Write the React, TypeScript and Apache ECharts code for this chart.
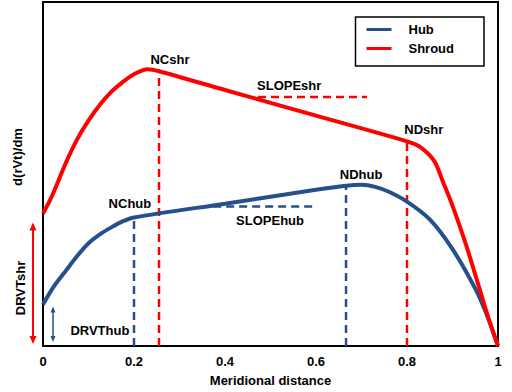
import React, { useEffect, useRef } from "react";
import * as echarts from "echarts";

// Meridional distance (x) and d(rVt)/dm (arbitrary units, y)
const hubX = [0, 0.025, 0.05, 0.075, 0.1, 0.125, 0.15, 0.175, 0.2, 0.4, 0.6, 0.666, 0.7, 0.73, 0.76, 0.8, 0.85, 0.9, 0.95, 0.975, 1];
const hubY = [42, 61, 76, 91, 104, 113, 120, 126, 130, 144, 158, 162, 163, 161, 156, 146, 128, 98, 58, 32, 0];

const shroudX = [0, 0.02, 0.05, 0.075, 0.1, 0.125, 0.15, 0.175, 0.2, 0.23, 0.255, 0.4, 0.6, 0.8, 0.83, 0.86, 0.88, 0.9, 0.93, 0.96, 0.98, 1];
const shroudY = [134, 152, 185, 209, 228, 244, 257, 267, 275, 280, 278, 259, 233, 207, 201, 187, 165, 142, 102, 57, 27, 0];

// Reference marks (dashed guides)
const ncShr = [[0.255, 0], [0.255, 278]];
const ndShr = [[0.8, 0], [0.8, 207]];
const ncHub = [[0.2, 0], [0.2, 130]];
const ndHub = [[0.666, 0], [0.666, 162]];
const slopeShr = [[0.4725, 252], [0.712, 252]];
const slopeHub = [[0.374, 141], [0.598, 141]];

// Annotation texts and their anchor points (data coordinates)
const labelTexts = ["NCshr", "SLOPEshr", "NDshr", "NDhub", "NChub", "SLOPEhub", "DRVThub"];
const labelAnchors = [[0.279, 290], [0.541, 264], [0.837, 219], [0.699, 174], [0.191, 144], [0.499, 127], [0.125, 16]];

// Range arrows (DRVTshr, DRVThub)
const drvtShr = [[-0.022, 125], [-0.022, 2]];
const drvtHub = [[0.022, 40], [0.022, 4]];

const xTicks = [0, 0.2, 0.4, 0.6, 0.8, 1];

const RED = "#FF0000";
const BLUE = "#25508C";
const FONT = "Liberation Sans";

const zip = (xs: number[], ys: number[]) => xs.map((x, i) => [x, ys[i]]);

export default function App() {
  const ref = useRef<HTMLDivElement>(null);
  useEffect(() => {
    document.body.style.margin = "0";
    const chart = echarts.init(ref.current!, null, { renderer: "svg" });
    const dashed = (data: number[][], color: string) => ({
      type: "line",
      data,
      symbol: "none",
      silent: true,
      lineStyle: { color, width: 2.5, type: [8, 5] },
      z: 1,
    });
    const lineIcon = "path://M0,0 L25,0 L25,3 L0,3 Z";
    const option: any = {
      animation: false,
      textStyle: { fontFamily: FONT },
      grid: { left: 43, right: 14, top: 2, bottom: 42, show: true, borderColor: "#000", borderWidth: 2 },
      legend: {
        data: [
          { name: "Hub", icon: lineIcon },
          { name: "Shroud", icon: lineIcon },
        ],
        orient: "vertical",
        right: 28,
        top: 17,
        padding: [6, 30, 11, 11],
        itemWidth: 25,
        itemHeight: 14,
        itemGap: 6,
        borderColor: "#000",
        borderWidth: 1.5,
        backgroundColor: "#fff",
        textStyle: { fontFamily: FONT, fontWeight: "bold", fontSize: 13, color: "#000", padding: [0, 0, 0, 12] },
      },
      xAxis: {
        type: "value",
        min: xTicks[0],
        max: xTicks[xTicks.length - 1],
        interval: 0.2,
        name: "Meridional distance",
        nameLocation: "middle",
        nameGap: 28,
        nameTextStyle: { fontFamily: FONT, fontWeight: "bold", fontSize: 13, color: "#000" },
        axisLine: { lineStyle: { color: "#000", width: 2 } },
        axisTick: { show: false },
        splitLine: { show: false },
        axisLabel: { fontFamily: FONT, fontWeight: "bold", fontSize: 13, color: "#000", margin: 9, formatter: (v: number) => String(v) },
      },
      yAxis: {
        type: "value",
        min: 0,
        max: 348,
        axisLine: { show: true, lineStyle: { color: "#000", width: 2 } },
        axisTick: { show: false },
        axisLabel: { show: false },
        splitLine: { show: false },
      },
      series: [
        dashed(ncShr, RED),
        dashed(ndShr, RED),
        dashed(slopeShr, RED),
        dashed(ncHub, BLUE),
        dashed(ndHub, BLUE),
        dashed(slopeHub, BLUE),
        {
          name: "Hub",
          type: "line",
          data: zip(hubX, hubY),
          symbol: "none",
          smooth: 0.3,
          lineStyle: { color: BLUE, width: 4 },
          itemStyle: { color: BLUE },
          z: 3,
        },
        {
          name: "Shroud",
          type: "line",
          data: zip(shroudX, shroudY),
          symbol: "none",
          smooth: 0.3,
          lineStyle: { color: RED, width: 4 },
          itemStyle: { color: RED },
          z: 3,
        },
      ],
    };
    chart.setOption(option);

    const px = (p: number[]) => chart.convertToPixel({ gridIndex: 0 }, p) as number[];
    const graphics: any[] = [];
    labelTexts.forEach((t, i) => {
      const [x, y] = px(labelAnchors[i]);
      graphics.push({
        type: "text",
        x,
        y,
        style: { text: t, fill: "#000", font: `bold 13px "${FONT}"`, textAlign: "center", textVerticalAlign: "middle" },
        z: 10,
      });
    });
    const arrow = (seg: number[][], color: string, head: number, hw: number, lw: number) => {
      const [x, y1] = px(seg[0]);
      const [, y2] = px(seg[1]);
      const top = Math.min(y1, y2);
      const bot = Math.max(y1, y2);
      graphics.push({ type: "line", shape: { x1: x, y1: top + head - 1, x2: x, y2: bot - head + 1 }, style: { stroke: color, lineWidth: lw }, z: 10 });
      graphics.push({ type: "polygon", shape: { points: [[x, top], [x - hw, top + head], [x + hw, top + head]] }, style: { fill: color }, z: 10 });
      graphics.push({ type: "polygon", shape: { points: [[x, bot], [x - hw, bot - head], [x + hw, bot - head]] }, style: { fill: color }, z: 10 });
    };
    arrow(drvtShr, RED, 8, 3.5, 2);
    arrow(drvtHub, BLUE, 6, 2.5, 1.5);

    graphics.push({
      type: "text",
      x: 20,
      y: 288,
      rotation: Math.PI / 2,
      style: { text: "DRVTshr", fill: "#000", font: `bold 13px "${FONT}"`, textAlign: "center", textVerticalAlign: "middle" },
      z: 10,
    });
    graphics.push({
      type: "text",
      x: 17,
      y: 157,
      rotation: Math.PI / 2,
      style: { text: "d(rVt)/dm", fill: "#000", font: `bold 13px "${FONT}"`, textAlign: "center", textVerticalAlign: "middle" },
      z: 10,
    });
    chart.setOption({ graphic: graphics });

    return () => chart.dispose();
  }, []);
  return <div ref={ref} style={{ width: 512, height: 392 }} />;
}
